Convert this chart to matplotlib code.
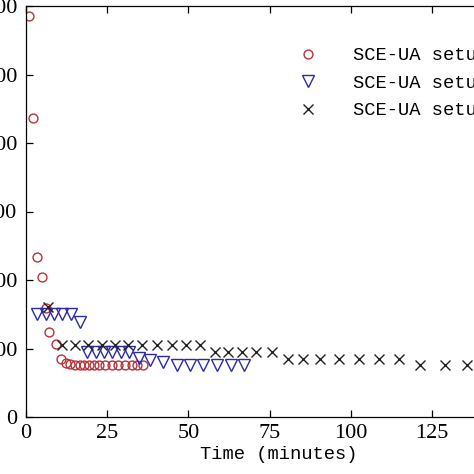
import matplotlib
matplotlib.use("Agg")
import matplotlib.pyplot as plt
import numpy as np

# setup 1 (red circles)
t1 = [1.0, 2.25, 3.5, 4.8, 6.1, 7.2, 9.1, 10.7, 12.2, 13.6, 15.0, 16.5, 18.0,
      19.5, 21.0, 22.4, 24.3, 26.4, 28.4, 30.5, 32.5, 34.3, 36.1]
v1 = [586, 436, 233, 205, 159, 124, 106, 85, 79, 77, 76, 76, 76,
      76, 76, 76, 76, 76, 76, 76, 76, 76, 76]

# setup 2 (blue triangles)
t2 = [3.5, 6.05, 8.6, 11.2, 13.75, 16.6, 18.9, 21.4, 24.0, 26.6, 29.1, 31.7,
      34.8, 38.2, 42.2, 46.4, 50.5, 54.6, 58.8, 63.0, 67.1]
v2 = [150, 150, 150, 150, 150, 139, 95, 95, 95, 95, 95, 95,
      86, 83, 80, 76, 76, 76, 76, 76, 76]

# setup 3 (black crosses)
t3 = [6.9, 11.0, 15.1, 19.2, 23.3, 27.4, 31.5, 35.7, 40.3, 44.9, 49.2, 53.4,
      58.2, 62.2, 66.6, 70.8, 75.8, 80.7, 85.3, 90.5, 96.3, 102.5, 108.6, 114.8,
      121.2, 128.9, 135.7]
v3 = [161, 105, 105, 105, 105, 105, 105, 105, 105, 105, 105, 105,
      95, 95, 95, 95, 95, 84, 84, 84, 84, 84, 84, 84,
      76, 76, 76]

labels = ["SCE-UA setup 1", "SCE-UA setup 2", "SCE-UA setup 3"]
xticks = [0, 25, 50, 75, 100, 125]
yticks = [0, 100, 200, 300, 400, 500, 600]

W = 474
fig = plt.figure(figsize=(4.74, 4.74), dpi=100)
ax = fig.add_axes([26 / W, 57 / W, 505 / W, 411 / W])

ax.plot(t1, v1, 'o', mfc='none', mec='#b8323a', ms=6.4, mew=1.0, ls='none', label=labels[0])
ax.plot(t2, v2, 'v', mfc='none', mec='#2a2aa8', ms=8.0, mew=1.0, ls='none', label=labels[1])
ax.plot(t3, v3, 'x', color='#222222', ms=7.0, mew=1.0, ls='none', label=labels[2])

ax.set_xlim(0, 155.4)
ax.set_ylim(0, 600)
ax.set_xticks(xticks)
ax.set_yticks(yticks)

tickfont = {'family': 'Liberation Serif', 'size': 16}
ax.set_xticklabels([str(v) for v in xticks], fontdict=tickfont)
ax.set_yticklabels([str(v) for v in yticks], fontdict=tickfont)
ax.tick_params(direction='in', length=5, width=0.9, top=True, right=True)
ax.tick_params(axis='x', pad=5)
ax.tick_params(axis='y', pad=6)
for s in ax.spines.values():
    s.set_linewidth(0.9)

ax.set_xlabel("Time (minutes)", family='Liberation Mono', fontsize=13.5, labelpad=2)

leg = ax.legend(loc='upper left', bbox_to_anchor=(289 / W, 1 - 38 / W),
                bbox_transform=fig.transFigure, frameon=False,
                prop={'family': 'Liberation Mono', 'size': 13.5},
                handlelength=1.0, handletextpad=1.9, labelspacing=0.55,
                borderpad=0)

fig.savefig("out.png", dpi=100)
